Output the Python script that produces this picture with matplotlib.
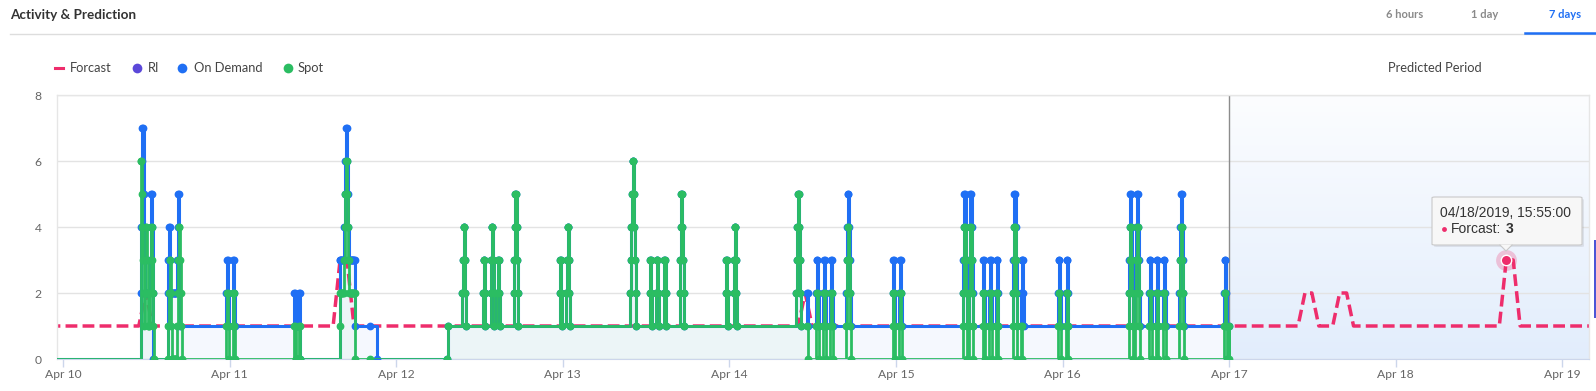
import numpy as np
import matplotlib.pyplot as plt
from matplotlib.lines import Line2D
from matplotlib.patches import FancyBboxPatch, Polygon, Rectangle
from matplotlib.colors import LinearSegmentedColormap

W, H = 1596, 391
STEP_H = 5 / 60  # spacing of samples inside one burst (hours)

# hours counted from Apr 10 00:00
day_ticks = [0, 24, 48, 72, 96, 120, 144, 168, 192, 216]
day_labels = ['Apr 10', 'Apr 11', 'Apr 12', 'Apr 13', 'Apr 14',
              'Apr 15', 'Apr 16', 'Apr 17', 'Apr 18', 'Apr 19']
predicted_start = 168

# (start hour, successive 5-minute values)
on_demand_runs = [
    (-2.0, [0]),
    (11.2, [2, 4, 6, 7, 7, 5, 3, 2, 2, 2, 2, 2, 2, 2, 2, 2, 3, 4, 5, 5, 4, 2, 0]),
    (15.1, [2, 3, 4, 4, 2, 2, 2, 2, 2, 2, 2, 2, 2, 2, 2, 2, 3, 4, 5, 5, 3, 1]),
    (23.55, [2, 3, 3, 2, 1]),
    (24.45, [2, 3, 3, 2, 1]),
    (33.35, [2, 2, 1, 1, 1, 1, 1, 1, 2, 2, 0]),
    (39.85, [3, 3, 3, 3, 3, 3, 3, 3, 4, 5, 6, 7, 7, 6, 5, 4, 3, 3, 3, 3, 3, 3, 3, 3, 3, 3, 3, 1]),
    (44.2, [1]),
    (45.2, [0]),
    (55.35, [0, 1]),
    (57.55, [2, 3, 4, 4, 3, 2, 1]),
    (60.51, [2, 3, 3, 2, 1]),
    (61.62, [2, 3, 4, 4, 3, 2, 1]),
    (62.58, [2, 3, 3, 2, 1]),
    (64.93, [2, 3, 4, 5, 5, 4, 3, 2, 1]),
    (71.55, [2, 3, 3, 2, 1]),
    (72.52, [2, 3, 4, 4, 3, 2, 1]),
    (81.73, [2, 3, 4, 5, 6, 6, 5, 4, 3, 2, 1]),
    (84.51, [2, 3, 3, 2, 1]),
    (85.47, [2, 3, 3, 2, 1]),
    (86.57, [2, 3, 3, 2, 1]),
    (88.83, [2, 3, 4, 5, 5, 4, 3, 2, 1]),
    (95.45, [2, 3, 3, 2, 1]),
    (96.60, [2, 3, 4, 4, 3, 2, 1]),
    (105.63, [2, 3, 4, 5, 5, 4, 3, 2, 1]),
    (107.2, [2, 2, 1]),
    (108.51, [2, 3, 3, 2, 1]),
    (109.56, [2, 3, 3, 2, 1]),
    (110.57, [2, 3, 3, 2, 1]),
    (112.83, [2, 3, 4, 5, 5, 4, 3, 2, 1]),
    (119.54, [2, 3, 3, 2, 1]),
    (120.50, [2, 3, 3, 2, 1]),
    (129.62, [2, 3, 4, 5, 5, 4, 3, 2, 1]),
    (130.48, [2, 3, 4, 5, 5, 4, 3, 2, 1]),
    (132.50, [2, 3, 3, 2, 1]),
    (133.46, [2, 3, 3, 2, 1]),
    (134.42, [2, 3, 3, 2, 1]),
    (136.81, [2, 3, 4, 5, 5, 4, 3, 2, 1]),
    (138.02, [2, 3, 3, 3, 2, 1]),
    (143.39, [2, 3, 3, 2, 1]),
    (144.50, [2, 3, 3, 2, 1]),
    (153.51, [2, 3, 4, 5, 5, 4, 3, 2, 1]),
    (154.48, [2, 3, 4, 5, 5, 4, 3, 2, 1]),
    (156.49, [2, 3, 3, 2, 1]),
    (157.46, [2, 3, 3, 2, 1]),
    (158.51, [2, 3, 3, 2, 1]),
    (160.81, [2, 3, 4, 5, 5, 4, 3, 2, 1]),
    (167.29, [2, 3, 3, 2, 1]),
    (168.0, [1]),
]

spot_runs = [
    (-2.0, [0]),
    (11.2, [6, 6, 5, 4, 3, 2, 1, 2, 3, 4, 4, 3, 2, 1, 1, 1, 2, 3, 4, 4, 3, 2, 1, 0]),
    (15.1, [0, 1, 2, 3, 3, 2, 1, 0, 0, 0, 0, 0, 0, 0, 0, 0, 1, 2, 3, 4, 4, 3, 2, 1, 0]),
    (23.55, [1, 2, 2, 1, 0]),
    (24.45, [1, 2, 2, 1, 0]),
    (33.35, [1, 1, 0, 0, 0, 0, 0, 0, 1, 1, 0]),
    (39.85, [1, 2, 2, 2, 2, 2, 2, 2, 3, 4, 5, 6, 6, 5, 4, 3, 3, 2, 2, 2, 2, 2, 2, 2, 2, 2, 2, 0]),
    (44.2, [0]),
    (55.35, [0, 1]),
    (57.55, [2, 3, 4, 4, 3, 2, 1]),
    (60.51, [2, 3, 3, 2, 1]),
    (61.62, [2, 3, 4, 4, 3, 2, 1]),
    (62.58, [2, 3, 3, 2, 1]),
    (64.93, [2, 3, 4, 5, 5, 4, 3, 2, 1]),
    (71.55, [2, 3, 3, 2, 1]),
    (72.52, [2, 3, 4, 4, 3, 2, 1]),
    (81.73, [2, 3, 4, 5, 6, 6, 5, 4, 3, 2, 1]),
    (84.51, [2, 3, 3, 2, 1]),
    (85.47, [2, 3, 3, 2, 1]),
    (86.57, [2, 3, 3, 2, 1]),
    (88.83, [2, 3, 4, 5, 5, 4, 3, 2, 1]),
    (95.45, [2, 3, 3, 2, 1]),
    (96.60, [2, 3, 4, 4, 3, 2, 1]),
    (105.63, [2, 3, 4, 5, 5, 4, 3, 2, 1]),
    (107.2, [1, 0]),
    (108.51, [1, 2, 2, 1, 0]),
    (109.56, [1, 2, 2, 1, 0]),
    (110.57, [1, 2, 2, 1, 0]),
    (112.83, [1, 2, 3, 4, 4, 3, 2, 1, 0]),
    (119.54, [1, 2, 2, 1, 0]),
    (120.50, [1, 2, 2, 1, 0]),
    (129.62, [1, 2, 3, 4, 4, 3, 2, 1, 0]),
    (130.48, [1, 2, 3, 4, 4, 3, 2, 1, 0]),
    (132.50, [1, 2, 2, 1, 0]),
    (133.46, [1, 2, 2, 1, 0]),
    (134.42, [1, 2, 2, 1, 0]),
    (136.81, [1, 2, 3, 4, 4, 3, 2, 1, 0]),
    (138.02, [1, 1, 0]),
    (143.39, [1, 2, 2, 1, 0]),
    (144.50, [1, 2, 2, 1, 0]),
    (153.51, [1, 2, 3, 4, 4, 3, 2, 1, 0]),
    (154.48, [1, 2, 3, 4, 4, 3, 2, 1, 0]),
    (156.49, [1, 2, 2, 1, 0]),
    (157.46, [1, 2, 2, 1, 0]),
    (158.51, [1, 2, 2, 1, 0]),
    (160.81, [1, 2, 3, 4, 4, 3, 2, 1, 0]),
    (167.29, [1, 2, 2, 1, 0]),
    (167.92, [1, 0]),
]

forecast_hours = [-2.08, 10.92, 11.92, 12.92, 38.92, 39.92, 40.92, 41.92,
                  105.92, 106.92, 107.92, 177.92, 178.92, 179.92, 180.92,
                  182.92, 183.92, 184.92, 185.92, 206.92, 207.92, 208.92,
                  209.92, 220.92]
forecast_vals = [1, 1, 2, 1, 1, 3, 3, 1, 1, 2, 1, 1, 2, 2, 1, 1, 2, 2, 1,
                 1, 3, 3, 1, 1]
hover_hour, hover_val = 207.92, 3

PINK = '#ee2d6c'
BLUE = '#1f6ff4'
GREEN = '#2bbd62'
PURPLE = '#5b48d9'


def expand(runs):
    t, v = [], []
    for start, vals in runs:
        for i, val in enumerate(vals):
            t.append(start + i * STEP_H)
            v.append(val)
    return np.array(t), np.array(v)


od_t, od_v = expand(on_demand_runs)
sp_t, sp_v = expand(spot_runs)

plt.rcParams['font.family'] = ['Lato', 'DejaVu Sans']
fig = plt.figure(figsize=(W / 100, H / 100), dpi=100)
ax = fig.add_axes([57 / W, 1 - 359 / H, (1589 - 57) / W, (359 - 95) / H])

xmin, xmax = -0.86, 219.84

# predicted period background
grad = np.linspace(0, 1, 256).reshape(-1, 1)
cmap = LinearSegmentedColormap.from_list('pred', ['#fcfdff', '#e2edfc'])
ax.imshow(grad, extent=[predicted_start, xmax, 0, 8], origin='upper',
          aspect='auto', cmap=cmap, zorder=0)
ax.axvline(predicted_start, color='#8c8c8c', lw=1, zorder=1)

# fills
ax.fill_between(od_t, od_v, step='post', color=BLUE, alpha=0.045, lw=0, zorder=1)
ax.fill_between(sp_t, sp_v, step='post', color=GREEN, alpha=0.045, lw=0, zorder=1)

ax.plot(forecast_hours, forecast_vals, color=PINK, lw=2.5,
        dashes=(3.4, 1.5), zorder=2)
ax.plot(od_t, od_v, drawstyle='steps-post', color=BLUE, lw=2.2,
        marker='o', ms=4.6, zorder=3)
ax.plot(sp_t, sp_v, drawstyle='steps-post', color=GREEN, lw=2,
        marker='o', ms=4.6, zorder=4)

# hovered forecast point
ax.plot(hover_hour, hover_val, 'o', ms=15, color=PINK, alpha=0.25, mec='none', zorder=5)
ax.plot(hover_hour, hover_val, 'o', ms=7.5, color=PINK, mec='white', mew=1, zorder=6)

ax.set_xlim(xmin, xmax)
ax.set_ylim(0, 8)
ax.set_yticks([0, 2, 4, 6, 8])
ax.set_xticks(day_ticks)
ax.set_xticklabels(day_labels)
ax.yaxis.grid(True, color='#e3e3e3', lw=1)
ax.set_axisbelow(True)
ax.tick_params(axis='y', length=0, pad=11, labelsize=8.7, labelcolor='#666666')
ax.tick_params(axis='x', length=6, width=1, color='#ccd6eb', pad=1.5,
               labelsize=8.7, labelcolor='#666666')
for side in ['left', 'right', 'top']:
    ax.spines[side].set_color('#e6e6e6')
    ax.spines[side].set_linewidth(1)
ax.spines['bottom'].set_color('#ccd6eb')


def fx(px):
    return px / W


def fy(py):
    return 1 - py / H


# header
fig.text(fx(10), fy(15), 'Activity & Prediction', fontsize=9.7, fontweight='bold',
         color='#333333', va='center', ha='left')
fig.add_artist(Line2D([fx(10), fx(W)], [fy(34), fy(34)], color='#dddddd', lw=1))
fig.add_artist(Line2D([fx(1525), fx(W)], [fy(33), fy(33)], color=BLUE, lw=1.8))
fig.text(fx(1405), fy(15), '6 hours', fontsize=8, fontweight='bold', color='#8a8a8a',
         ha='center', va='center')
fig.text(fx(1485), fy(15), '1 day', fontsize=8, fontweight='bold', color='#8a8a8a',
         ha='center', va='center')
fig.text(fx(1565), fy(15), '7 days', fontsize=8, fontweight='bold', color=BLUE,
         ha='center', va='center')

# legend
ly = fy(68)
fig.add_artist(Line2D([fx(55), fx(63)], [ly, ly], color=PINK, lw=2.2))
fig.text(fx(70), ly, 'Forcast', fontsize=9.3, color='#444444', va='center')
for cx, tx, col, lab in [(137, 148, PURPLE, 'RI'), (182, 194, BLUE, 'On Demand'),
                         (288, 298, GREEN, 'Spot')]:
    fig.add_artist(Line2D([fx(cx)], [ly], marker='o', ms=7, color=col, mec='none'))
    fig.text(fx(tx), ly, lab, fontsize=9.3, color='#444444', va='center')
fig.text(fx(1435), ly, 'Predicted Period', fontsize=9.3, color='#444444',
         va='center', ha='center')

# tooltip
shadow = FancyBboxPatch((fx(1434), fy(247)), fx(1584) - fx(1434), fy(199) - fy(247),
                        boxstyle='round,pad=0,rounding_size=0.002',
                        transform=fig.transFigure, fc='#000000', alpha=0.08,
                        ec='none', zorder=9)
fig.add_artist(shadow)
box = FancyBboxPatch((fx(1432), fy(245)), fx(1582) - fx(1432), fy(197) - fy(245),
                     boxstyle='round,pad=0,rounding_size=0.002',
                     transform=fig.transFigure, fc='#f7f7f7', ec='#c9c9c9',
                     lw=0.8, zorder=10)
fig.add_artist(box)
fig.add_artist(Polygon([[fx(1500), fy(244.6)], [fx(1512), fy(244.6)], [fx(1506), fy(251)]],
                       closed=True, transform=fig.transFigure, fc='#f7f7f7',
                       ec='none', zorder=11))
fig.add_artist(Line2D([fx(1500), fx(1506), fx(1512)], [fy(245), fy(251), fy(245)],
                      color='#c9c9c9', lw=0.8, zorder=11))
fig.text(fx(1440), fy(213), '04/18/2019, 15:55:00', fontsize=10, color='#333333',
         family='Liberation Sans', va='center', zorder=12)
fig.add_artist(Line2D([fx(1444)], [fy(229)], marker='o', ms=3.5, color=PINK,
                      mec='none', zorder=12))
fig.text(fx(1451), fy(229), 'Forcast:', fontsize=10, color='#333333',
         family='Liberation Sans', va='center', zorder=12)
fig.text(fx(1506), fy(229), '3', fontsize=10, color='#333333', fontweight='bold',
         family='Liberation Sans', va='center', zorder=12)

# edge of a scrollbar visible at the right border
fig.add_artist(Rectangle((fx(1594), fy(318)), fx(2), fy(240) - fy(318),
                         transform=fig.transFigure, fc='#4c55d6', ec='none'))

fig.savefig('out.png', dpi=100)
